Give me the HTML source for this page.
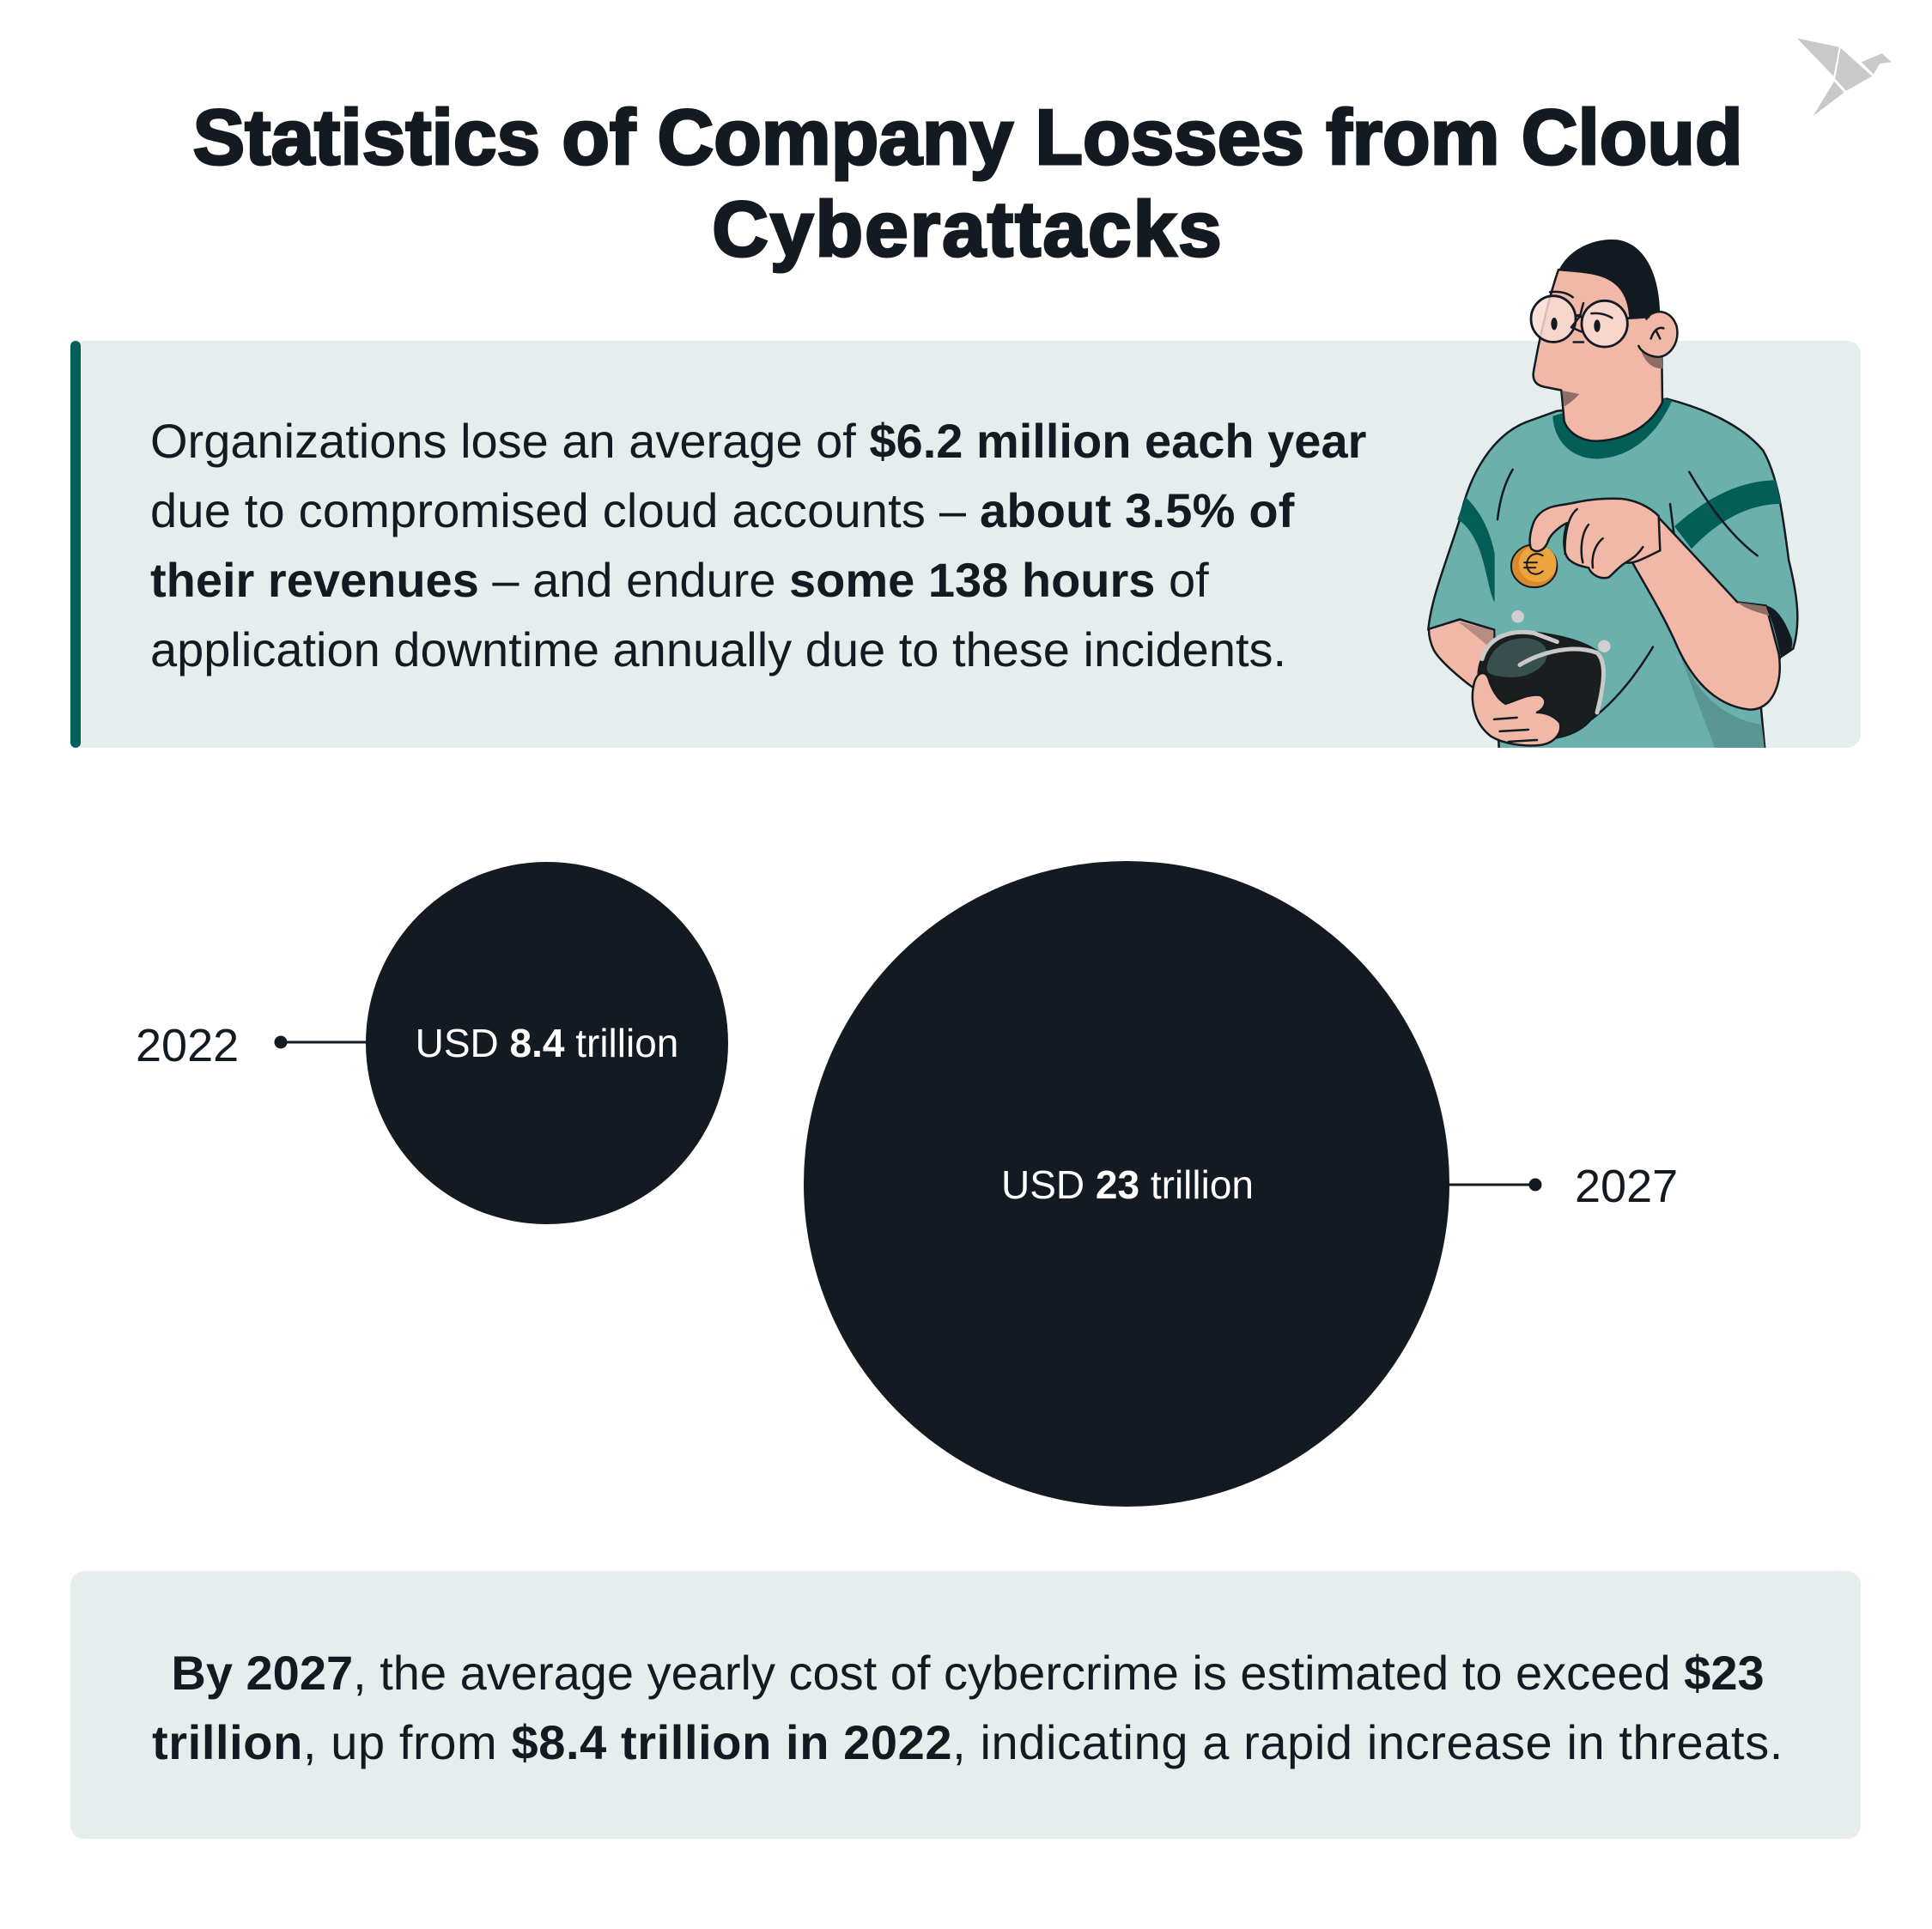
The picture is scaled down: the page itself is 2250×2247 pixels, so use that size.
<!DOCTYPE html>
<html>
<head>
<meta charset="utf-8">
<style>
  html, body { margin: 0; padding: 0; background: #ffffff; }
  body { width: 2250px; height: 2247px; overflow: hidden; }
  svg { display: block; }
  .t { font-family: "Liberation Sans", Arial, sans-serif; }
</style>
</head>
<body>
<svg width="2250" height="2247" viewBox="0 0 2250 2247" xmlns="http://www.w3.org/2000/svg">
  <defs>
    <clipPath id="manClip">
      <rect x="1560" y="150" width="680" height="721"/>
    </clipPath>
  </defs>

  <!-- Logo bird -->
  <g fill="#c9c9c9" stroke="#ffffff" stroke-width="2" stroke-linejoin="round">
    <polygon points="2090,43 2143,54 2136,91"/>
    <polygon points="2143,54 2182,89 2150,107 2136,92"/>
    <polygon points="2136,93 2149,108 2108,139"/>
    <polygon points="2166,72 2192,61 2205,73 2190,75 2182,88"/>
  </g>

  <!-- Title -->
  <g class="t" font-weight="bold" font-size="91" fill="#131a21" stroke="#131a21" stroke-width="3" text-anchor="middle">
    <text x="1127" y="191">Statistics of Company Losses from Cloud</text>
    <text x="1127" y="298" letter-spacing="2">Cyberattacks</text>
  </g>

  <!-- Top card -->
  <rect x="82" y="397" width="2085" height="474" rx="16" fill="#e6eeed"/>
  <rect x="82" y="397" width="12" height="474" rx="6" fill="#035f59"/>

  <g class="t" font-size="56" fill="#131a21">
    <text x="175" y="533">Organizations lose an average of <tspan font-weight="bold">$6.2 million each year</tspan></text>
    <text x="175" y="614" letter-spacing="0.2">due to compromised cloud accounts – <tspan font-weight="bold">about 3.5% of</tspan></text>
    <text x="175" y="695"><tspan font-weight="bold">their revenues</tspan> – and endure <tspan font-weight="bold">some 138 hours</tspan> of</text>
    <text x="175" y="776">application downtime annually due to these incidents.</text>
  </g>

  <!-- Illustration -->
  <g clip-path="url(#manClip)">
    <g transform="translate(1640,260) scale(0.33333,0.4013)" stroke="#131a21" stroke-linejoin="round" stroke-linecap="round">
      <!-- shirt -->
      <path vector-effect="non-scaling-stroke" stroke-width="2.5" fill="#6cb0ab"
        d="M 520 545 L 410 578 C 300 615, 215 720, 180 860 C 130 990, 80 1090, 70 1180 L 180 1150 L 300 1180 L 318 1545 L 1248 1545 L 1232 1400 L 1300 1260 L 1345 1235 C 1372 1160, 1360 1080, 1330 980 C 1310 860, 1295 740, 1240 660 C 1160 580, 1020 535, 905 510 Z"/>
      <!-- shirt shadow -->
      <path stroke="none" fill="#5a9692" d="M 950 1250 C 1010 1370, 1110 1440, 1235 1455 L 1248 1545 L 1080 1545 C 1040 1450, 990 1350, 950 1250 Z"/>
      <!-- sleeve stripes -->
      <path stroke="none" fill="#035e58" d="M 200 795 C 245 830, 285 885, 302 960 L 302 1100 C 285 1080, 275 1010, 250 950 C 225 895, 195 870, 172 860 Z"/>
      <path stroke="none" fill="#035e58" d="M 930 880 C 1040 800, 1150 748, 1285 746 L 1302 815 C 1170 815, 1065 880, 990 945 Z"/>
      <!-- collar -->
      <path stroke="none" fill="#035e58" d="M 505 560 C 510 640, 580 684, 660 684 C 760 682, 860 630, 922 515 L 880 505 C 840 560, 760 600, 660 605 C 590 605, 555 585, 545 550 Z"/>
      <!-- shirt fold lines -->
      <g fill="none" stroke-width="2.5">
        <path vector-effect="non-scaling-stroke" d="M 312 860 C 320 800, 340 750, 365 715"/>
        <path vector-effect="non-scaling-stroke" d="M 982 722 C 1050 820, 1130 910, 1220 965"/>
        <path vector-effect="non-scaling-stroke" d="M 915 815 L 928 900"/>
        <path vector-effect="non-scaling-stroke" d="M 855 1230 C 790 1320, 720 1390, 640 1440"/>
      </g>
      <!-- face & neck -->
      <path vector-effect="non-scaling-stroke" stroke-width="2.5" fill="#f1b8a8"
        d="M 525 135 C 510 170, 490 230, 470 300 C 455 350, 445 400, 438 430 C 433 455, 445 470, 475 475 L 535 485 L 545 575 C 560 610, 610 635, 665 632 C 760 628, 845 590, 888 520 L 886 390 L 880 270 L 775 270 C 770 210, 740 160, 640 145 C 590 138, 550 137, 525 135 Z"/>
      <!-- chin shadow -->
      <path stroke="none" fill="#8d6e66" d="M 537 486 L 598 496 C 578 514, 558 526, 546 532 Z"/>
      <!-- hair -->
      <path stroke="none" fill="#131a21" d="M 525 138 C 560 75, 650 42, 730 48 C 820 58, 880 140, 880 275 L 772 272 C 768 205, 735 160, 640 146 C 590 140, 555 140, 525 138 Z"/>
      <!-- ear shadow -->
      <path stroke="none" fill="#8d6e66" d="M 810 362 C 840 390, 870 392, 887 388 L 889 422 C 850 422, 825 402, 810 362 Z"/>
      <!-- ear -->
      <path vector-effect="non-scaling-stroke" stroke-width="2.5" fill="#f1b8a8" d="M 832 278 C 858 245, 920 250, 938 300 C 950 350, 910 390, 870 388 C 840 386, 812 372, 805 356"/>
      <path vector-effect="non-scaling-stroke" stroke-width="2.5" fill="none" d="M 848 335 C 858 310, 875 300, 892 305 M 868 315 L 880 335"/>
      <!-- glasses -->
      <ellipse vector-effect="non-scaling-stroke" stroke-width="2.8" cx="507" cy="278" rx="78" ry="67" fill="#f8dbd2" fill-opacity="0.85"/>
      <ellipse vector-effect="non-scaling-stroke" stroke-width="2.8" cx="686" cy="292" rx="80" ry="67" fill="#f8dbd2" fill-opacity="0.85"/>
      <path vector-effect="non-scaling-stroke" stroke-width="2.8" fill="none" d="M 585 272 Q 595 262 607 274 M 766 276 L 840 272"/>
      <!-- eyes -->
      <ellipse stroke="none" cx="510" cy="292" rx="11" ry="18" fill="#131a21"/>
      <ellipse stroke="none" cx="660" cy="298" rx="11" ry="18" fill="#131a21"/>
      <!-- brows, nose, mouth -->
      <path vector-effect="non-scaling-stroke" stroke-width="2.5" fill="none" d="M 495 200 Q 545 195 575 215 M 640 262 Q 680 258 712 275 M 612 232 L 600 270 L 570 302 L 605 315 M 578 345 L 612 345"/>
      <!-- right forearm -->
      <path vector-effect="non-scaling-stroke" stroke-width="2.5" fill="#f1b8a8"
        d="M 870 850 C 950 920, 1050 1010, 1150 1100 L 1250 1110 L 1295 1250 C 1310 1340, 1270 1412, 1195 1412 C 1070 1402, 985 1320, 930 1210 C 880 1120, 820 1040, 780 980 Z"/>
      <path stroke="none" fill="#8d6e66" d="M 1150 1100 L 1250 1112 L 1262 1140 C 1220 1128, 1180 1122, 1150 1100 Z"/>
      <path stroke="none" fill="#131a21" d="M 1250 1110 C 1290 1115, 1320 1160, 1340 1205 C 1345 1225, 1340 1240, 1325 1250 L 1300 1255 C 1290 1210, 1275 1160, 1250 1110 Z"/>
      <!-- coin -->
      <ellipse vector-effect="non-scaling-stroke" stroke-width="2" cx="440" cy="995" rx="80" ry="62" fill="#d98a2e"/>
      <ellipse stroke="none" cx="452" cy="988" rx="66" ry="54" fill="#eea43c"/>
      <path vector-effect="non-scaling-stroke" stroke-width="2" fill="none" d="M 470 965 C 440 950, 410 970, 415 995 C 420 1020, 450 1025, 470 1010 M 405 985 L 450 985 M 405 1000 L 445 1000"/>
      <!-- hand -->
      <path vector-effect="non-scaling-stroke" stroke-width="2.5" fill="#f1b8a8"
        d="M 600 808 C 650 800, 700 798, 745 800 C 800 805, 845 825, 875 850 L 880 950 C 830 970, 790 990, 760 985 C 730 1000, 715 1020, 700 1028 C 670 1035, 640 1020, 630 1000 C 600 995, 580 990, 560 975 C 540 955, 540 910, 555 870 C 530 880, 500 900, 490 920 C 478 950, 450 960, 430 945 C 420 930, 425 895, 440 865 C 455 840, 480 826, 520 820 C 550 816, 580 812, 600 808 Z"/>
      <path vector-effect="non-scaling-stroke" stroke-width="2.5" fill="none" d="M 590 830 C 560 850, 545 900, 548 960 M 630 875 C 605 900, 600 950, 610 985 M 680 915 C 650 935, 640 970, 645 1000 M 820 940 C 800 965, 780 975, 760 985"/>
      <!-- left arm -->
      <path vector-effect="non-scaling-stroke" stroke-width="2.5" fill="#f1b8a8" d="M 72 1178 L 180 1150 L 300 1180 L 300 1290 L 230 1350 C 180 1320, 110 1270, 90 1240 C 78 1220, 72 1200, 72 1178 Z"/>
      <path stroke="none" fill="#b58d83" d="M 172 1156 L 298 1182 L 298 1240 C 260 1215, 220 1185, 172 1156 Z"/>
      <!-- wallet -->
      <ellipse stroke="none" cx="383" cy="1142" rx="22" ry="18" fill="#cfcfcf"/>
      <ellipse stroke="none" cx="685" cy="1228" rx="22" ry="18" fill="#cfcfcf"/>
      <path vector-effect="non-scaling-stroke" stroke-width="2" fill="#1b1e1f" d="M 245 1300 C 255 1230, 330 1180, 420 1185 C 520 1195, 610 1210, 665 1245 C 700 1290, 690 1380, 640 1440 C 590 1490, 490 1510, 400 1490 C 310 1470, 240 1400, 245 1300 Z"/>
      <path stroke="none" fill="#37504e" d="M 275 1290 C 285 1230, 350 1200, 420 1205 C 470 1210, 495 1235, 480 1270 C 460 1300, 410 1320, 350 1318 C 300 1315, 272 1310, 275 1290 Z"/>
      <path vector-effect="non-scaling-stroke" stroke="#c9c9c9" stroke-width="5" fill="none" d="M 258 1265 C 280 1200, 360 1178, 440 1190 L 520 1215 M 390 1282 C 470 1242, 580 1222, 660 1247 C 690 1272, 690 1322, 660 1420"/>
      <!-- left hand -->
      <path vector-effect="non-scaling-stroke" stroke-width="2.5" fill="#f1b8a8" d="M 232 1330 C 215 1380, 225 1450, 290 1490 C 330 1510, 400 1520, 460 1515 C 510 1510, 540 1480, 530 1450 C 510 1430, 480 1420, 450 1420 C 480 1410, 490 1380, 460 1370 C 420 1365, 380 1385, 340 1395 C 310 1380, 290 1350, 280 1320 C 270 1300, 245 1300, 232 1330 Z"/>
      <path vector-effect="non-scaling-stroke" stroke-width="2.5" fill="none" d="M 300 1440 L 380 1435 M 320 1475 L 420 1470 M 350 1505 L 450 1500"/>
    </g>
  </g>

  <!-- Circles -->
  <circle cx="637" cy="1215" r="211" fill="#131a22"/>
  <circle cx="1312" cy="1379" r="376" fill="#131a22"/>

  <!-- connectors -->
  <line x1="327" y1="1214" x2="430" y2="1214" stroke="#131a21" stroke-width="3"/>
  <circle cx="327" cy="1214" r="7.5" fill="#131a21"/>
  <line x1="1685" y1="1380" x2="1788" y2="1380" stroke="#131a21" stroke-width="3"/>
  <circle cx="1788" cy="1380" r="7.5" fill="#131a21"/>

  <g class="t" font-size="54" fill="#131a21">
    <text x="158" y="1236">2022</text>
    <text x="1834" y="1400">2027</text>
  </g>

  <g class="t" font-size="46" fill="#ffffff" text-anchor="middle">
    <text x="637" y="1231">USD <tspan font-weight="bold">8.4</tspan> trillion</text>
    <text x="1313" y="1396">USD <tspan font-weight="bold">23</tspan> trillion</text>
  </g>

  <!-- Bottom card -->
  <rect x="82" y="1830" width="2085" height="312" rx="16" fill="#e6eeed"/>
  <g class="t" font-size="56" fill="#131a21" text-anchor="middle">
    <text x="1127" y="1968"><tspan font-weight="bold">By 2027</tspan>, the average yearly cost of cybercrime is estimated to exceed <tspan font-weight="bold">$23</tspan></text>
    <text x="1127" y="2049" letter-spacing="0.6"><tspan font-weight="bold">trillion</tspan>, up from <tspan font-weight="bold">$8.4 trillion in 2022</tspan>, indicating a rapid increase in threats.</text>
  </g>
</svg>
</body>
</html>
